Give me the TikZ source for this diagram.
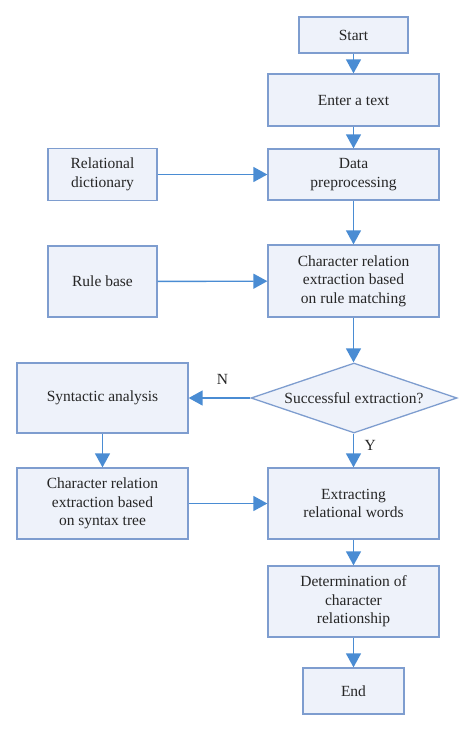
\documentclass[tikz,border=0pt]{standalone}
\usepackage{fontspec}
\setmainfont{Liberation Serif}
\usetikzlibrary{shapes.geometric,arrows.meta}
\definecolor{boxfill}{HTML}{EEF2FA}
\definecolor{boxline}{HTML}{7E9DCF}
\definecolor{arr}{HTML}{4A8CD3}
\begin{document}
\begin{tikzpicture}[x=1pt,y=-1pt,
  box/.style={draw=boxline,fill=boxfill,line width=1.3pt,align=center,inner sep=0pt,
    font=\fontsize{15.5}{18.5}\selectfont,text=black!85},
  dia/.style={diamond,draw=boxline,fill=boxfill,line width=1.3pt,inner sep=0pt},
  link/.style={draw=arr,line width=1.4pt,-{Triangle[width=15pt,length=14pt]}},
  lab/.style={font=\fontsize{15.5}{18.5}\selectfont,text=black!85}]
\useasboundingbox (0,0) rectangle (474,732);
\node[box,minimum width=109pt,minimum height=36pt] (start) at (353.5,35) {Start};
\node[box,minimum width=171pt,minimum height=52pt] (enter) at (353.5,100) {Enter a text};
\node[box,minimum width=171pt,minimum height=51pt] (prep) at (353.5,174.5) {Data\\preprocessing};
\node[box,minimum width=109pt,minimum height=52pt] (dict) at (102.5,174.5) {Relational\\dictionary};
\node[box,minimum width=109pt,minimum height=71pt] (rule) at (102.5,281.5) {Rule base};
\node[box,minimum width=171pt,minimum height=72pt] (cre1) at (353.5,281) {Character relation\\extraction based\\on rule matching};
\node[dia,minimum width=206pt,minimum height=70pt] (succ) at (354,398) {};
\node[lab] (succtext) at (succ.center) {Successful extraction?};
\node[box,minimum width=171pt,minimum height=70pt] (syn) at (102.5,398) {Syntactic analysis};
\node[box,minimum width=171pt,minimum height=71pt] (cre2) at (102.5,503.5) {Character relation\\extraction based\\on syntax tree};
\node[box,minimum width=171pt,minimum height=71pt] (extr) at (353.5,503.5) {Extracting\\relational words};
\node[box,minimum width=171pt,minimum height=71pt] (det) at (353.5,601.5) {Determination of\\character\\relationship};
\node[box,minimum width=101pt,minimum height=46pt] (end) at (353.5,691) {End};
\draw[link] (start) -- (enter);
\draw[link] (enter) -- (prep);
\draw[link] (dict) -- (prep);
\draw[link] (prep) -- (cre1);
\draw[link] (rule) -- (cre1);
\draw[link] (cre1.south) -- (cre1.south |- succ.north);
\draw[link] (succ.west) -- (syn.east) node[lab,pos=0.45,above=9pt] {N};
\draw[link] (succ.south -| extr.north) -- (extr.north) node[lab,pos=0.35,right=7pt] {Y};
\draw[link] (syn) -- (cre2);
\draw[link] (cre2) -- (extr);
\draw[link] (extr) -- (det);
\draw[link] (det) -- (end);
\end{tikzpicture}
\end{document}
